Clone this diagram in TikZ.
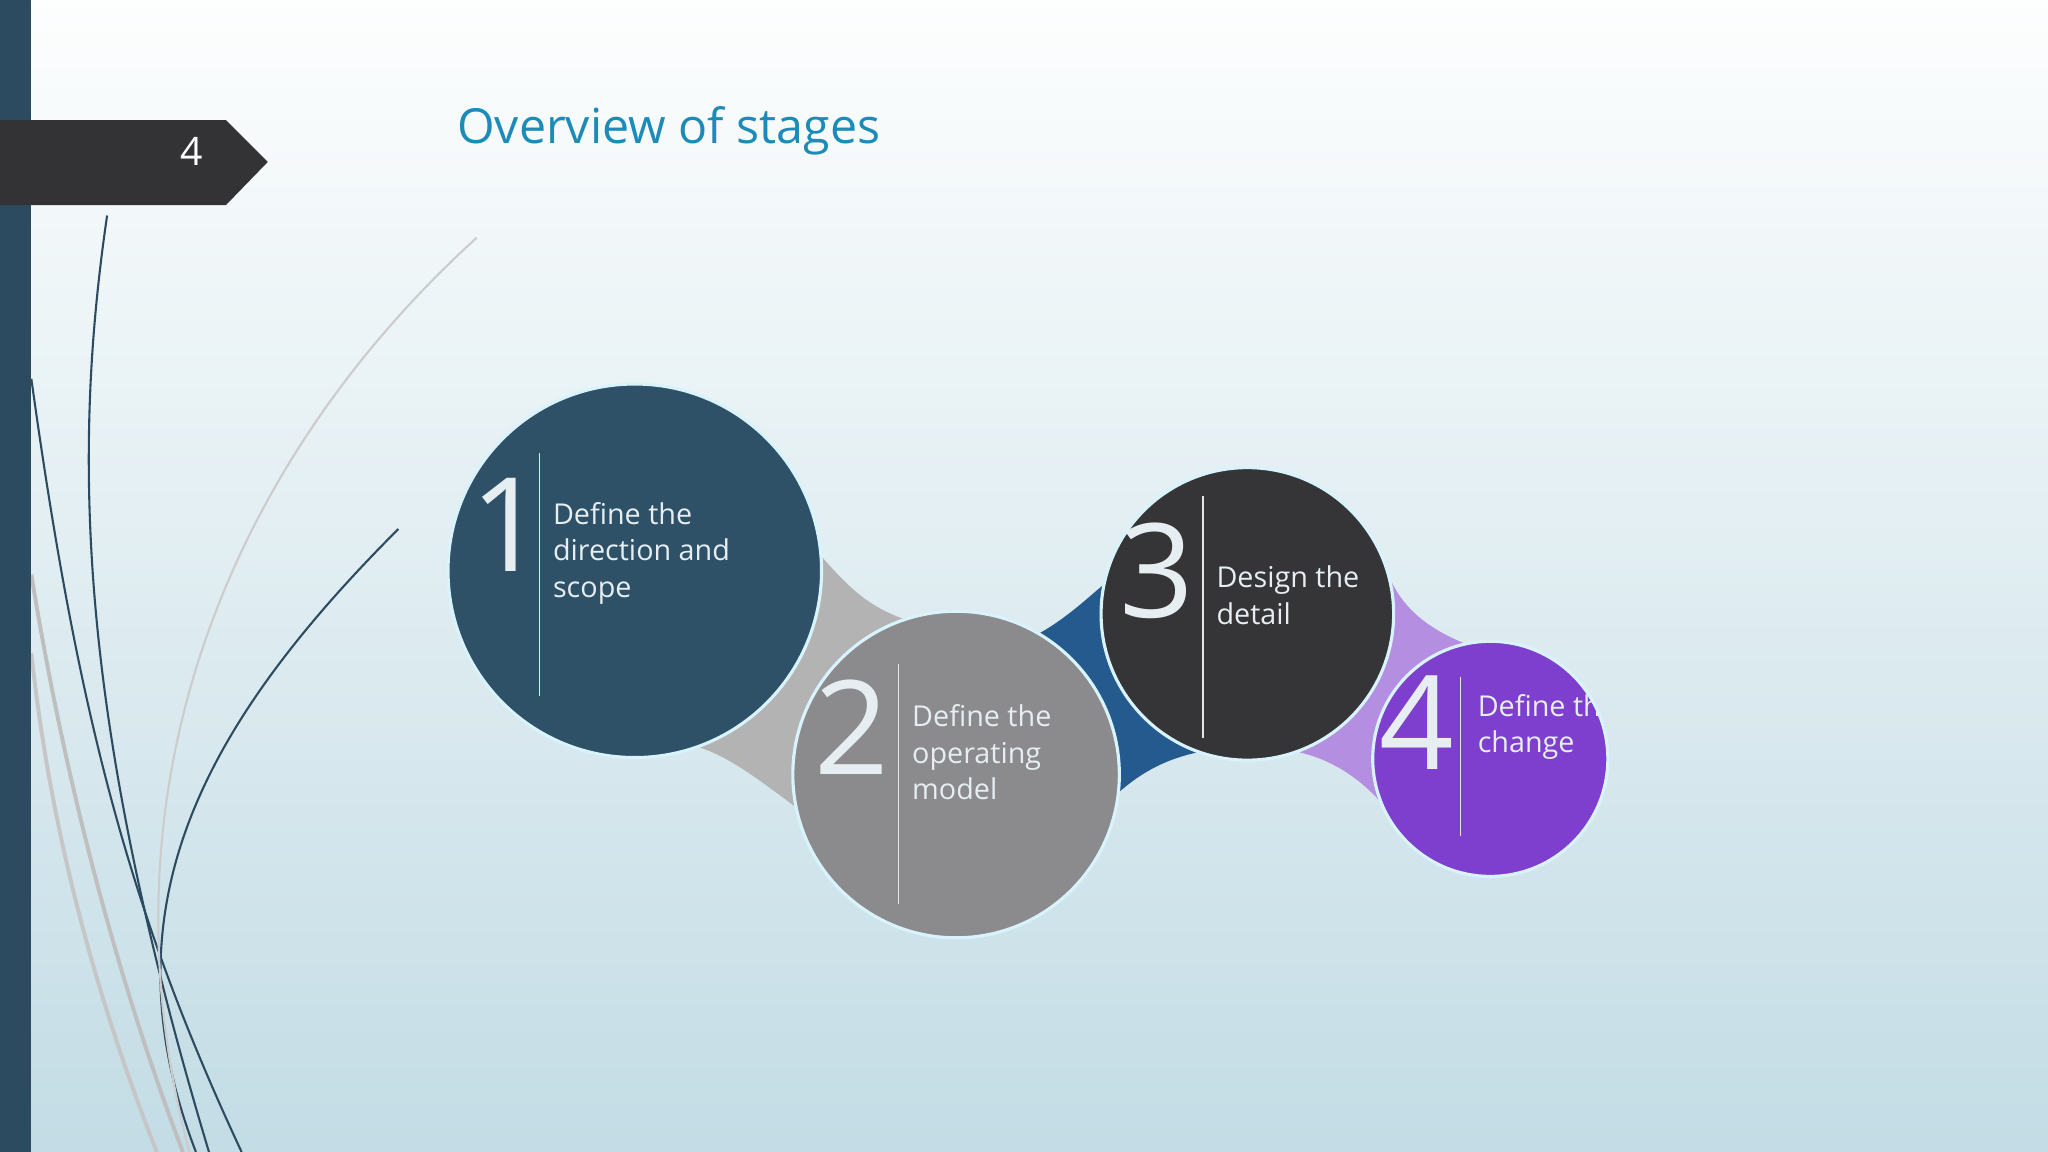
\documentclass[tikz,border=0pt]{standalone}
\usepackage{fontspec}
\setmainfont{Open Sans}
\definecolor{bgtop}{HTML}{FDFEFE}
\definecolor{bgbot}{HTML}{C3DCE5}
\definecolor{bar}{HTML}{2C4B60}
\definecolor{tag}{HTML}{333335}
\definecolor{ttl}{HTML}{1D8BB8}
\definecolor{cA}{HTML}{2E5168}
\definecolor{cB}{HTML}{8B8B8D}
\definecolor{cC}{HTML}{353538}
\definecolor{cD}{HTML}{7E3FCF}
\definecolor{kA}{HTML}{B3B3B3}
\definecolor{kB}{HTML}{245A8E}
\definecolor{kC}{HTML}{B48EE0}
\definecolor{txt}{HTML}{E6EEF2}
\begin{document}
\begin{tikzpicture}[x=0.5pt,y=-0.5pt,
  stage/.style={circle,draw=white!85!cyan,line width=1.2pt,inner sep=0pt},
  num/.style={text=txt,font=\fontsize{50}{50}\selectfont, inner sep=0pt},
  lbl/.style={text=txt,font=\fontsize{11}{14}\selectfont,align=left,anchor=north west,inner sep=0pt},
  div/.style={draw=white!80!gray,line width=0.5pt},
  swoosh/.style={line width=0.8pt}]
\useasboundingbox (0,0) rectangle (1568,882);
\shade[top color=bgtop,bottom color=bgbot] (0,0) rectangle (1568,882);
% swooshes
\draw[swoosh,bar] (82,165) .. controls (55,350) and (60,550) .. (160,882);
\draw[swoosh,bar] (24,290) .. controls (60,550) and (100,700) .. (185,882);
\draw[swoosh,bar] (305,405) .. controls (150,560) and (80,700) .. (150,882);
\draw[swoosh,gray!40] (365,182) .. controls (180,350) and (70,600) .. (145,882);
\draw[swoosh,gray!50,line width=1.5pt] (24,440) .. controls (50,600) and (90,750) .. (140,882);
\draw[swoosh,gray!45,line width=1.5pt] (24,500) .. controls (40,650) and (80,780) .. (120,882);
\fill[bar] (0,0) rectangle (24,882);
% tag
\fill[tag] (0,92) -- (173,92) -- (205,124) -- (173,157) -- (0,157) -- cycle;
\node[text=white,font=\fontsize{15}{15}\selectfont] (pg) at (147,116) {4};
\node[text=ttl,font=\fontsize{18.5}{19}\selectfont,anchor=west] (title) at (343,100) {Overview of stages};
% connectors
\fill[kA] (628,425) .. controls (650,450) and (665,465) .. (695,475) -- (612,620) .. controls (585,600) and (560,580) .. (535,572) -- cycle;
\fill[kB] (790,488) .. controls (815,475) and (830,460) .. (848,445) -- (922,575) .. controls (895,580) and (875,590) .. (855,608) -- cycle;
\fill[kC] (1063,440) .. controls (1075,470) and (1100,485) .. (1130,496) -- (1058,615) .. controls (1040,595) and (1020,582) .. (995,576) -- cycle;
% circles
\node[stage,fill=cA,minimum size=143pt] (s1) at (486,437) {};
\node[stage,fill=cB,minimum size=125pt] (s2) at (732,593) {};
\node[stage,fill=cC,minimum size=112pt] (s3) at (955,470) {};
\node[stage,fill=cD,minimum size=90pt] (s4) at (1141,581) {};
% dividers
\draw[div] (413,347) -- (413,533);
\draw[div] (688,508) -- (688,692);
\draw[div] (921,380) -- (921,565);
\draw[div] (1118,518) -- (1118,640);
% numbers
\node[num] (n1) at (389,402) {1};
\node[num] (n2) at (652,557) {2};
\node[num] (n3) at (886,437) {3};
\node[num] (n4) at (1085,553) {4};
% labels
\node[lbl] (t1) at (423,384) {Define the\\direction and\\scope};
\node[lbl] (t2) at (698,539) {Define the\\operating\\model};
\node[lbl] (t3) at (931,433) {Design the\\detail};
\begin{scope}
\clip (1141,581) circle (89);
\node[lbl] (t4) at (1131,531) {Define the\\change};
\end{scope}
\end{tikzpicture}
\end{document}
